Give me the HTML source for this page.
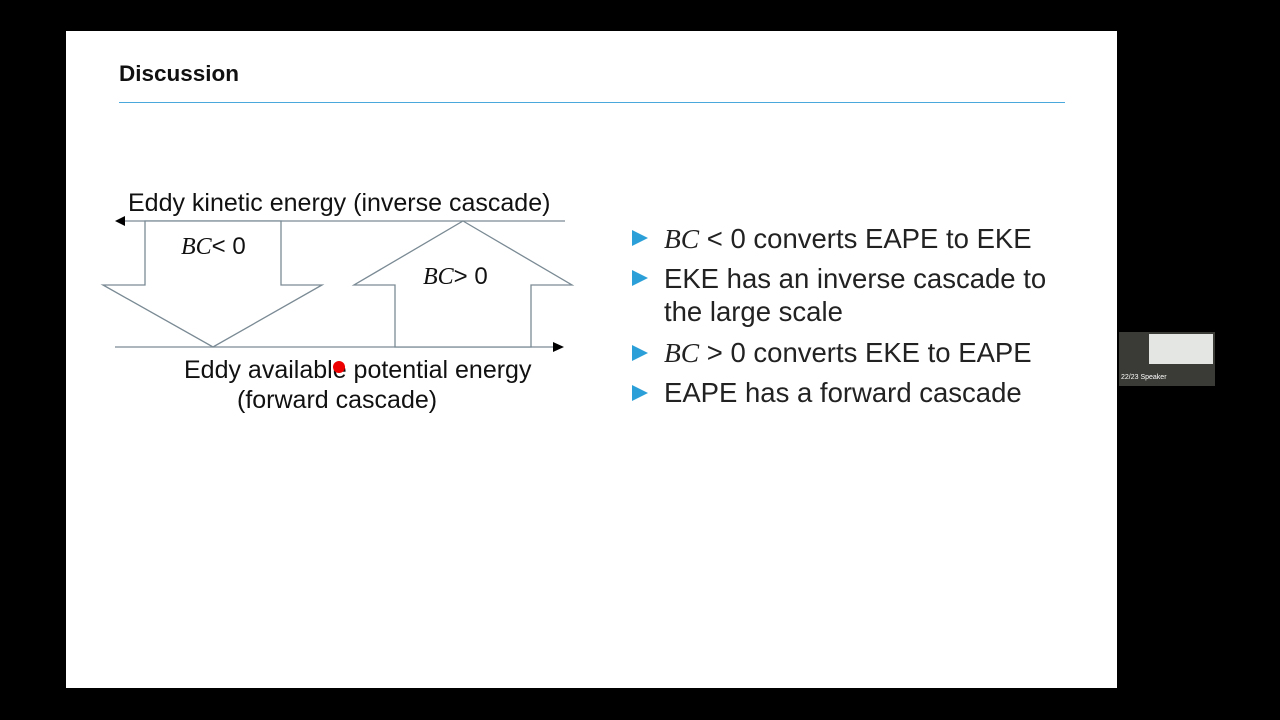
<!DOCTYPE html>
<html><head><style>
body{margin:0;width:1280px;height:720px;background:#000;position:relative;overflow:hidden;font-family:"Liberation Sans",sans-serif}
.slide{position:absolute;left:66px;top:31px;width:1051px;height:657px;background:#fff}
.t{position:absolute;white-space:nowrap}
.b{position:absolute;left:664px;font-size:27.5px;color:#222;white-space:nowrap;line-height:33px}
.tri{position:absolute;left:632px;width:0;height:0;border-left:16px solid #2a9fd8;border-top:8px solid transparent;border-bottom:8px solid transparent}
i{font-family:"Liberation Serif",serif}
</style></head><body>
<div class="slide"></div>
<div class="t" style="left:119px;top:61px;font-size:22.5px;font-weight:bold;color:#111">Discussion</div>
<div style="position:absolute;left:119px;top:102px;width:946px;height:1px;background:#4aa8dc"></div>
<svg style="position:absolute;left:0;top:0" width="1280" height="720">
<g fill="none" stroke="#7a8a94" stroke-width="1.3">
<line x1="120" y1="221" x2="565" y2="221"/>
<line x1="115" y1="347" x2="556" y2="347"/>
<polygon fill="#fff" points="145,221 281,221 281,285 322,285 213,347 103,285 145,285"/>
<polygon fill="#fff" points="463,221 572,285 531,285 531,347 395,347 395,285 354,285"/>
</g>
<polygon points="115,221 125,216 125,226" fill="#000"/>
<polygon points="564,347 553,342 553,352" fill="#000"/>
</svg>
<div class="t" style="left:128px;top:189px;font-size:25px;color:#111">Eddy kinetic energy (inverse cascade)</div>
<div class="t" style="left:181px;top:233px;font-size:24px;color:#111"><i>BC</i>&lt; 0</div>
<div class="t" style="left:423px;top:263px;font-size:24px;color:#111"><i>BC</i>&gt; 0</div>
<div class="t" style="left:184px;top:356px;font-size:25px;color:#111">Eddy available potential energy</div>
<div class="t" style="left:237px;top:386px;font-size:25px;color:#111">(forward cascade)</div>
<div style="position:absolute;left:333px;top:361px;width:12px;height:12px;border-radius:50%;background:#e00"></div>
<div class="tri" style="top:230px"></div><div class="b" style="top:222px"><i>BC</i> &lt; 0 converts EAPE to EKE</div>
<div class="tri" style="top:270px"></div><div class="b" style="top:262px">EKE has an inverse cascade to<br>the large scale</div>
<div class="tri" style="top:345px"></div><div class="b" style="top:336px"><i>BC</i> &gt; 0 converts EKE to EAPE</div>
<div class="tri" style="top:385px"></div><div class="b" style="top:376px">EAPE has a forward cascade</div>
<div style="position:absolute;left:1119px;top:332px;width:96px;height:54px;background:#3a3a36">
<div style="position:absolute;left:30px;top:2px;width:64px;height:30px;background:#e4e6e4"></div>
<div style="position:absolute;left:2px;top:42px;font-size:7px;color:#fff">22/23 Speaker</div></div>
</body></html>
